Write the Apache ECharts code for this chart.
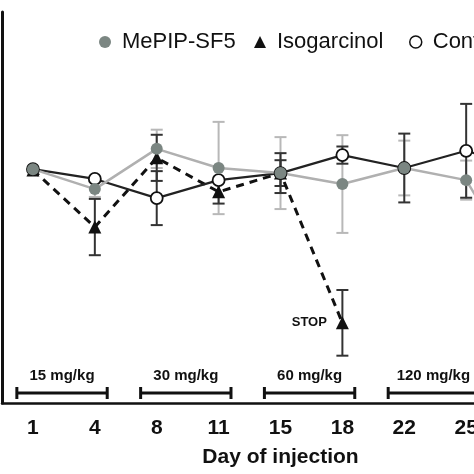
<!DOCTYPE html>
<html>
<head>
<meta charset="utf-8" />
<title>Day of injection</title>
<script src="https://cdn.jsdelivr.net/npm/echarts@6/dist/echarts.min.js"></script>
<style>
  html, body { margin: 0; padding: 0; background: #fff; }
  #main { width: 474px; height: 474px; }
</style>
</head>
<body>
<div id="main"></div>
<script type="text/javascript">
// days of injection (the last one is past the crop)
var days = ['1', '4', '8', '11', '15', '18', '22', '25', '29'];

// mean values, arbitrary units
var mepip = [59.8, 54.7, 65.0, 60.1, 58.8, 56.0, 60.1, 57.0, 30.7];
var mepipErr = [0, 2, 4.9, 11.8, 9.2, 12.5, 7.0, 5.0, 0];
var isog = [59.6, 45.0, 62.7, 54.0, 58.8, 20.5, null, null, null];
var isogErr = [0, 7.2, 5.9, 3, 3.3, 8.4, 0, 0, 0];
var control = [59.8, 57.3, 52.4, 57.0, 58.8, 63.4, 60.1, 64.5, 60.0];
var controlErr = [0, 0, 6.9, 0, 5.1, 2.2, 8.8, 12.0, 0];

// dose blocks: label + category index of the first day in the block
var doseLabels = ['15 mg/kg', '30 mg/kg', '60 mg/kg', '120 mg/kg'];
var doseFirst = [0, 2, 4, 6];

var myChart = echarts.init(document.getElementById('main'));

function errData(vals, errs) {
    var out = [];
    for (var i = 0; i < vals.length; i++) {
        if (vals[i] == null || !errs[i]) continue;
        out.push([i, vals[i] - errs[i], vals[i] + errs[i]]);
    }
    return out;
}

function errRender(params, api) {
    var x = api.value(0);
    var lo = api.coord([x, api.value(1)]);
    var hi = api.coord([x, api.value(2)]);
    var st = { stroke: api.visual('color'), lineWidth: 2 };
    var h = 6;
    return {
        type: 'group',
        children: [
            { type: 'line', shape: { x1: lo[0], y1: lo[1], x2: hi[0], y2: hi[1] }, style: st },
            { type: 'line', shape: { x1: lo[0] - h, y1: lo[1], x2: lo[0] + h, y2: lo[1] }, style: st },
            { type: 'line', shape: { x1: hi[0] - h, y1: hi[1], x2: hi[0] + h, y2: hi[1] }, style: st }
        ]
    };
}

function doseRender(params, api) {
    var i = api.value(0);
    var p0 = api.coord([i, 0]);
    var band = api.coord([i + 1, 0])[0] - p0[0];
    var x1 = p0[0] - 0.26 * band;
    var x2 = p0[0] + 1.2 * band;
    var y = p0[1] - 10;
    var st = { stroke: '#111', lineWidth: 3 };
    return {
        type: 'group',
        children: [
            { type: 'line', shape: { x1: x1, y1: y, x2: x2, y2: y }, style: st },
            { type: 'line', shape: { x1: x1, y1: y - 6, x2: x1, y2: y + 6 }, style: st },
            { type: 'line', shape: { x1: x2, y1: y - 6, x2: x2, y2: y + 6 }, style: st },
            {
                type: 'text',
                style: {
                    text: doseLabels[params.dataIndex],
                    x: (x1 + x2) / 2, y: y - 17,
                    align: 'center', verticalAlign: 'middle',
                    font: 'bold 15px "Liberation Sans", Arial, sans-serif',
                    fill: '#111'
                }
            }
        ]
    };
}

var option = {
    animation: false,
    backgroundColor: '#fff',
    textStyle: { fontFamily: '"Liberation Sans", Arial, sans-serif' },
    legend: {
        left: 94,
        top: 24,
        width: 600,
        itemWidth: 12,
        itemHeight: 12,
        itemGap: 12,
        selectedMode: false,
        textStyle: {
            fontSize: 22,
            lineHeight: 26,
            color: '#111',
            width: 120,
            padding: [0, 0, 0, 6]
        },
        data: [
            { name: 'MePIP-SF5', icon: 'circle', itemStyle: { color: '#7b8682' } },
            { name: 'Isogarcinol', icon: 'triangle', itemStyle: { color: '#111' } },
            { name: 'Control', icon: 'circle', itemStyle: { color: '#fff', borderColor: '#111', borderWidth: 1.5 } }
        ]
    },
    grid: { left: 2, top: 12, width: 557, height: 391, outerBoundsMode: 'none', containLabel: false },
    xAxis: {
        type: 'category',
        data: days,
        name: 'Day of injection',
        nameLocation: 'middle',
        nameGap: 44,
        nameTextStyle: { fontSize: 21, fontWeight: 'bold', color: '#111' },
        axisLine: { lineStyle: { color: '#111', width: 2.5 } },
        axisTick: { alignWithLabel: true, length: 9, lineStyle: { color: '#111', width: 2.5 } },
        axisLabel: { fontSize: 21, fontWeight: 'bold', color: '#111', margin: 15 },
        splitLine: { show: false }
    },
    yAxis: {
        type: 'value',
        min: 0,
        max: 100,
        axisLine: { show: true, lineStyle: { color: '#111', width: 3 } },
        axisTick: { show: false },
        axisLabel: { show: false },
        splitLine: { show: false }
    },
    series: [
        {
            name: 'errMePIP', type: 'custom', renderItem: errRender,
            itemStyle: { color: '#b8b8b8' },
            encode: { x: 0, y: [1, 2] },
            data: errData(mepip, mepipErr)
        },
        {
            name: 'errIsog', type: 'custom', renderItem: errRender,
            itemStyle: { color: '#333' },
            encode: { x: 0, y: [1, 2] },
            data: errData(isog, isogErr)
        },
        {
            name: 'errControl', type: 'custom', renderItem: errRender,
            itemStyle: { color: '#333' },
            encode: { x: 0, y: [1, 2] },
            data: errData(control, controlErr)
        },
        {
            name: 'dose', type: 'custom', renderItem: doseRender,
            encode: { x: 0, y: 1 },
            data: doseFirst.map(function (d) { return [d, 0]; })
        },
        {
            name: 'Isogarcinol',
            type: 'line',
            symbol: 'triangle',
            symbolSize: 13,
            itemStyle: { color: '#111' },
            lineStyle: { color: '#111', width: 3, type: [8, 6] },
            data: isog.map(function (v, i) {
                if (i === 5) {
                    return {
                        value: v,
                        label: {
                            show: true, formatter: 'STOP', position: 'left', distance: 9,
                            fontSize: 13, fontWeight: 'bold', color: '#111'
                        }
                    };
                }
                return v;
            })
        },
        {
            name: 'Control',
            type: 'line',
            symbol: 'circle',
            symbolSize: 12,
            itemStyle: { color: '#fff', borderColor: '#111', borderWidth: 1.8 },
            lineStyle: { color: '#222', width: 2.2 },
            data: control
        },
        {
            name: 'MePIP-SF5',
            type: 'line',
            symbol: 'circle',
            symbolSize: 12,
            itemStyle: { color: '#7b8682' },
            lineStyle: { color: '#b0b0b0', width: 2.5 },
            data: mepip
        }
    ]
};

myChart.setOption(option);
</script>
</body>
</html>
